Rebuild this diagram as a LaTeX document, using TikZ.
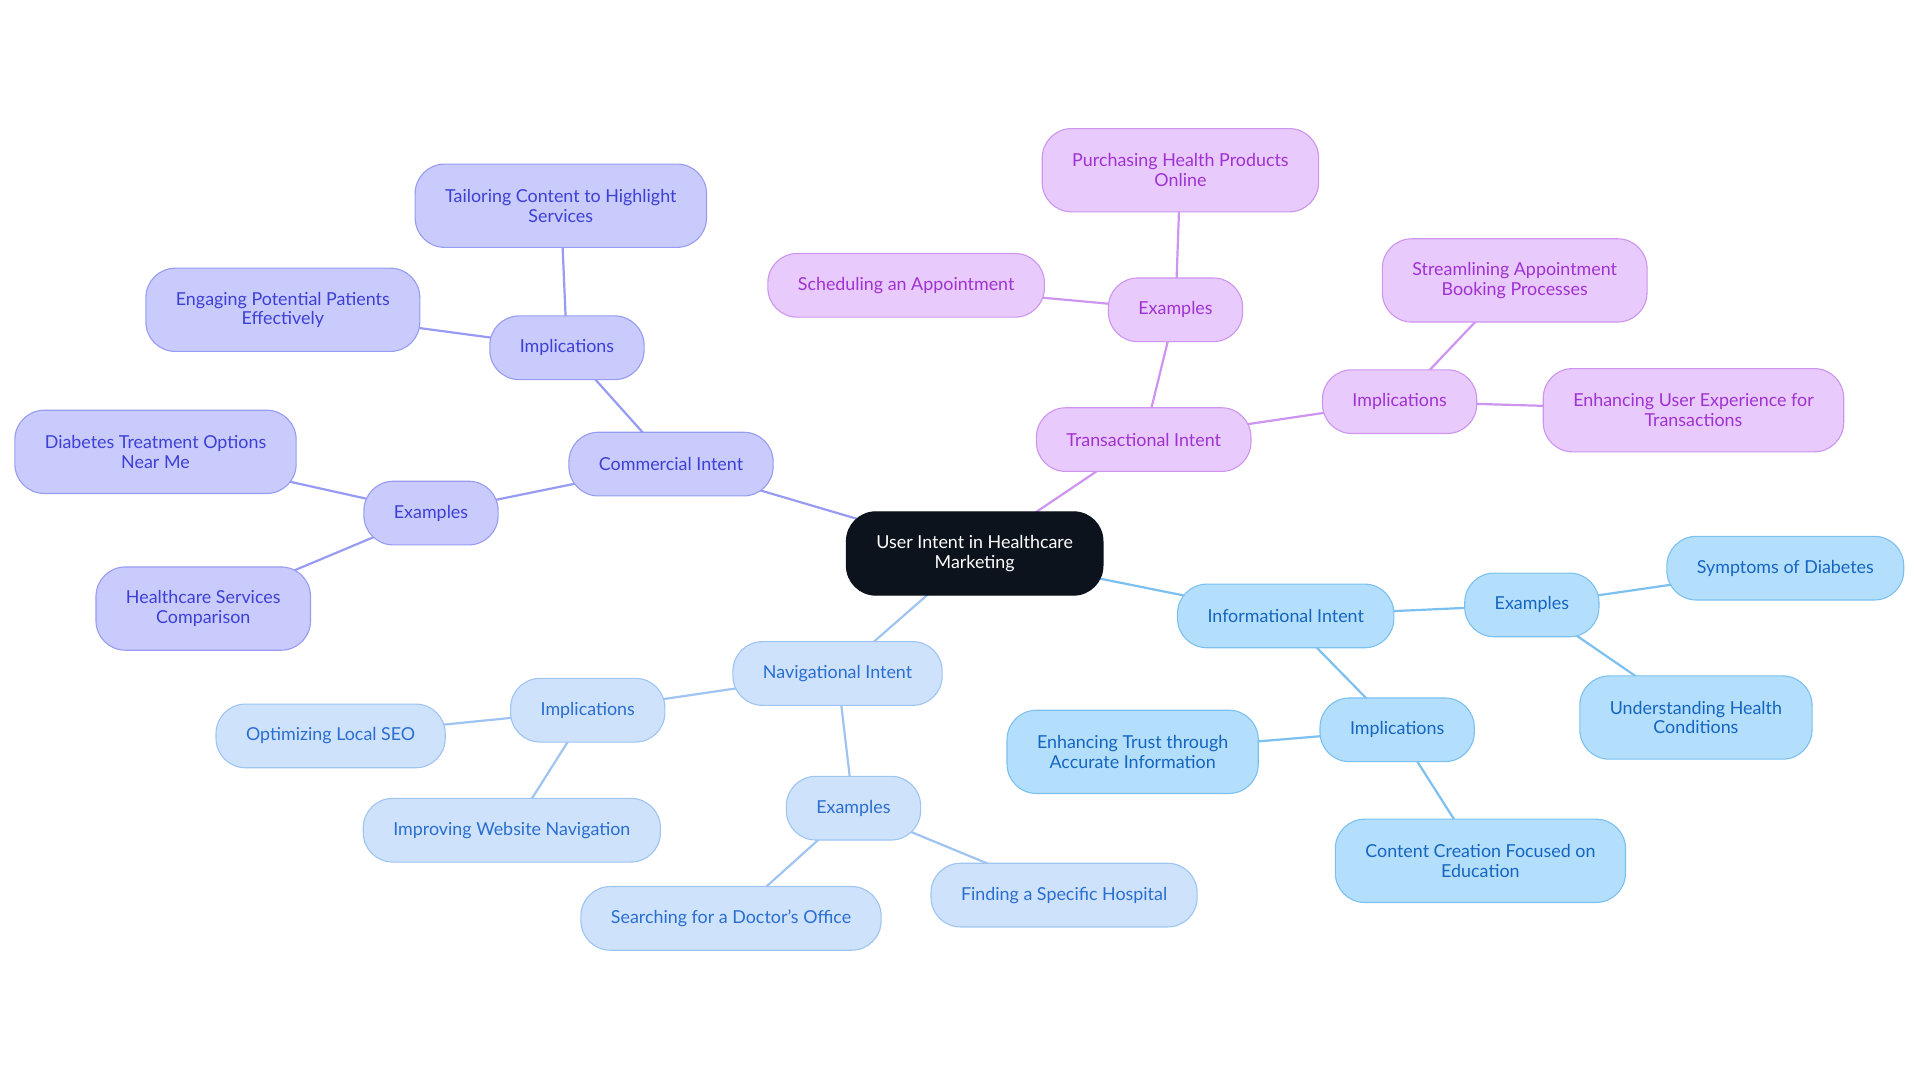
\documentclass[tikz,border=0pt]{standalone}
\usepackage{fontspec}
\setmainfont{Lato}
\usepackage{tikz}
\usetikzlibrary{positioning,backgrounds}

\definecolor{comFill}{HTML}{C9CBFC}
\definecolor{comLine}{HTML}{979CF2}
\definecolor{comText}{HTML}{3D40D4}
\definecolor{traFill}{HTML}{E8CAFC}
\definecolor{traLine}{HTML}{CD95F0}
\definecolor{traText}{HTML}{A032D2}
\definecolor{infFill}{HTML}{B4DFFC}
\definecolor{infLine}{HTML}{7CC0F0}
\definecolor{infText}{HTML}{1565C0}
\definecolor{navFill}{HTML}{CEE2FC}
\definecolor{navLine}{HTML}{9FC4F2}
\definecolor{navText}{HTML}{2A6ED0}
\definecolor{rootFill}{HTML}{0D131C}

\begin{document}
\begin{tikzpicture}[x=1pt, y=-1pt,
    box/.style={rounded corners=24pt, minimum height=52pt, inner xsep=24.5pt, inner ysep=8pt,
        align=center, line width=0.9pt, font=\fontsize{14.6}{16}\selectfont},
    com/.style={box, fill=comFill, draw=comLine, text=comText},
    tra/.style={box, fill=traFill, draw=traLine, text=traText},
    inf/.style={box, fill=infFill, draw=infLine, text=infText},
    nav/.style={box, fill=navFill, draw=navLine, text=navText},
    link/.style={line width=1.8pt}]
    \useasboundingbox (0,0) rectangle (1568,884);

    % Root
    \node[box, fill=rootFill, draw=rootFill, text=white, minimum height=68pt] (root) at (796,452) {User Intent in Healthcare\\Marketing};

    % Commercial branch
    \node[com] (com) at (548,379) {Commercial Intent};
    \node[com] (comImp) at (463,284) {Implications};
    \node[com, minimum height=68pt] (comTail) at (458,168) {Tailoring Content to Highlight\\Services};
    \node[com, minimum height=68pt] (comEng) at (231,253) {Engaging Potential Patients\\Effectively};
    \node[com] (comEx) at (352,419) {Examples};
    \node[com, minimum height=68pt] (comDia) at (127,369) {Diabetes Treatment Options\\Near Me};
    \node[com, minimum height=68pt] (comCmp) at (166,497) {Healthcare Services\\Comparison};

    % Transactional branch
    \node[tra] (tra) at (934,359) {Transactional Intent};
    \node[tra] (traEx) at (960,253) {Examples};
    \node[tra, minimum height=68pt] (traBuy) at (964,139) {Purchasing Health Products\\Online};
    \node[tra] (traApp) at (740,233) {Scheduling an Appointment};
    \node[tra] (traImp) at (1143,328) {Implications};
    \node[tra, minimum height=68pt] (traStr) at (1237,229) {Streamlining Appointment\\Booking Processes};
    \node[tra, minimum height=68pt] (traUx) at (1383,335) {Enhancing User Experience for\\Transactions};

    % Informational branch
    \node[inf] (inf) at (1050,503) {Informational Intent};
    \node[inf] (infEx) at (1251,494) {Examples};
    \node[inf] (infSym) at (1458,464) {Symptoms of Diabetes};
    \node[inf, minimum height=68pt] (infUnd) at (1385,586) {Understanding Health\\Conditions};
    \node[inf] (infImp) at (1141,596) {Implications};
    \node[inf, minimum height=68pt] (infTru) at (925,614) {Enhancing Trust through\\Accurate Information};
    \node[inf, minimum height=68pt] (infEdu) at (1209,703) {Content Creation Focused on\\Education};

    % Navigational branch
    \node[nav] (nav) at (684,550) {Navigational Intent};
    \node[nav] (navImp) at (480,580) {Implications};
    \node[nav] (navSeo) at (270,601) {Optimizing Local SEO};
    \node[nav] (navWeb) at (418,678) {Improving Website Navigation};
    \node[nav] (navEx) at (697,660) {Examples};
    \node[nav] (navDoc) at (597,750) {Searching for a Doctor's Office};
    \node[nav] (navHos) at (869,731) {Finding a Specific Hospital};

    % Connectors (behind the boxes)
    \begin{scope}[on background layer]
    \draw[link, comLine] (root.center) -- (com.center);
    \draw[link, comLine] (com.center) -- (comImp.center);
    \draw[link, comLine] (comImp.center) -- (comTail.center);
    \draw[link, comLine] (comImp.center) -- (comEng.center);
    \draw[link, comLine] (com.center) -- (comEx.center);
    \draw[link, comLine] (comEx.center) -- (comDia.center);
    \draw[link, comLine] (comEx.center) -- (comCmp.center);

    \draw[link, traLine] (root.center) -- (tra.center);
    \draw[link, traLine] (tra.center) -- (traEx.center);
    \draw[link, traLine] (traEx.center) -- (traBuy.center);
    \draw[link, traLine] (traEx.center) -- (traApp.center);
    \draw[link, traLine] (tra.center) -- (traImp.center);
    \draw[link, traLine] (traImp.center) -- (traStr.center);
    \draw[link, traLine] (traImp.center) -- (traUx.center);

    \draw[link, infLine] (root.center) -- (inf.center);
    \draw[link, infLine] (inf.center) -- (infEx.center);
    \draw[link, infLine] (infEx.center) -- (infSym.center);
    \draw[link, infLine] (infEx.center) -- (infUnd.center);
    \draw[link, infLine] (inf.center) -- (infImp.center);
    \draw[link, infLine] (infImp.center) -- (infTru.center);
    \draw[link, infLine] (infImp.center) -- (infEdu.center);

    \draw[link, navLine] (root.center) -- (nav.center);
    \draw[link, navLine] (nav.center) -- (navImp.center);
    \draw[link, navLine] (navImp.center) -- (navSeo.center);
    \draw[link, navLine] (navImp.center) -- (navWeb.center);
    \draw[link, navLine] (nav.center) -- (navEx.center);
    \draw[link, navLine] (navEx.center) -- (navDoc.center);
    \draw[link, navLine] (navEx.center) -- (navHos.center);
    \end{scope}

\end{tikzpicture}
\end{document}
